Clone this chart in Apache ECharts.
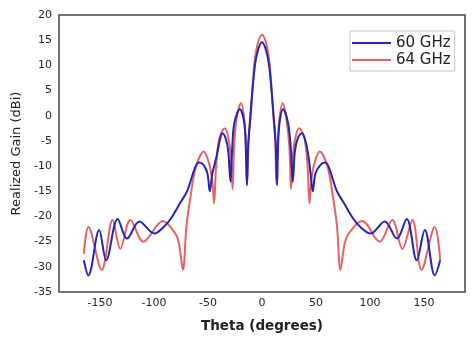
<!DOCTYPE html>
<html>
<head>
<meta charset="utf-8">
<script src="https://cdn.jsdelivr.net/npm/echarts@6/dist/echarts.min.js"></script>
<style>
  html, body { margin: 0; padding: 0; background: #fff; }
  #chart { width: 474px; height: 338px; }
</style>
</head>
<body>
<div id="chart"></div>
<script>
// Radiation pattern cut: realized gain versus theta at two frequencies
const seriesNames = ['60 GHz', '64 GHz'];

// 60 GHz cut (theta in degrees, gain in dBi)
const theta60 = [
  -165, -160.8, -150.8, -144.3, -133.7, -125, -113.6, -99.6, -92, -84, -76, -69, -62, -58.3, -54, -50.5, -48.4,
  -46, -42, -39, -36.6, -33.5, -31.3, -29.2, -27.5, -25.5, -20.5, -16.5, -15, -14, -12.8, -11, -7, -4, 0,
  4, 7, 11, 12.8, 14, 14.8, 16.3, 19.5, 24, 26.7, 28.5, 30.5, 33, 37, 40, 43, 45, 47,
  49.5, 54, 58.6, 62, 69, 76, 84, 92, 100.5, 113.6, 125, 134, 143.3, 150.8, 160, 165
];
const gain60 = [
  -28.7, -31.7, -22.7, -28.7, -20.5, -24.4, -21, -23.4, -22.3, -20.3, -17.4, -14.8, -10.3, -9.3, -9.8, -11.5, -15,
  -11.5, -8, -4.8, -3.5, -4.6, -7, -13.1, -6, -1.3, 1.3, -1.3, -6.5, -13.8, -6, -0.7, 9.2, 12.8, 14.6,
  12.8, 9.2, -0.7, -6, -13.8, -6.5, -1.3, 1.3, -1.3, -6.5, -13.1, -7, -4.6, -3.5, -4.8, -8, -11.5, -15,
  -11.5, -9.8, -9.3, -10.3, -14.8, -17.4, -20.3, -22.3, -23.4, -21, -24.4, -20.5, -28.7, -22.7, -31.7, -28.7
];

// 64 GHz cut (theta in degrees, gain in dBi)
const theta64 = [
  -165, -160.8, -148.4, -138.4, -131.2, -121.9, -109.8, -91.8, -80, -76.8, -73.2, -70, -66.5, -61, -54, -49, -46, -44.4,
  -42.5, -39.5, -34.4, -31, -29, -27.3, -25.8, -23.5, -19.5, -16.5, -14.8, -13.7, -12.5, -10.5, -7, -4, 0,
  4, 7, 10.5, 12.2, 13.3, 14.4, 16.2, 19.2, 22.5, 25.3, 27, 28.7, 30.8, 34.4, 39.3, 42.2, 44,
  45.6, 48.5, 53.4, 60.5, 66, 69.5, 72.6, 76.5, 80, 92.7, 109, 120.6, 130, 139.3, 147.7, 160, 165
];
const gain64 = [
  -27.4, -22.1, -30.6, -20.7, -26.4, -20.7, -25, -20.9, -23.5, -25.5, -30.6, -22, -16.5, -10, -7.1, -9.5, -13, -17.4,
  -10, -4.5, -2.5, -4.5, -8, -14.6, -6, -0.5, 2.5, -0.5, -6, -13.5, -5, 0, 10.5, 14.3, 16.1,
  14.3, 10.5, 0, -5, -13.5, -6, -0.5, 2.5, -0.5, -6, -14.6, -8, -4.5, -2.5, -4.5, -10, -17.4,
  -13, -9.5, -7.1, -10, -16.5, -22, -30.6, -25.5, -23.5, -20.9, -25, -20.7, -26.4, -20.7, -30.6, -22.1, -28.7
];

const xTicks = [-150, -100, -50, 0, 50, 100, 150];

const pairs = (xs, ys) => xs.map((x, i) => [x, ys[i]]);

const chart = echarts.init(document.getElementById('chart'), null, { renderer: 'canvas' });
const font = 'DejaVu Sans';

chart.setOption({
  animation: false,
  backgroundColor: '#ffffff',
  grid: {
    left: 59, right: 9, top: 15, bottom: 46,
    show: true, borderColor: '#454545', borderWidth: 1.5, backgroundColor: 'transparent'
  },
  legend: {
    orient: 'vertical',
    left: 350, top: 31,
    data: seriesNames,
    icon: 'rect',
    itemWidth: 39, itemHeight: 2,
    itemGap: 1,
    padding: [4, 4, 3, 2],
    backgroundColor: '#ffffff',
    borderColor: '#c4c4c4', borderWidth: 1,
    textStyle: { fontFamily: font, fontSize: 15, color: '#222', lineHeight: 16 }
  },
  xAxis: {
    type: 'value',
    min: -188, max: 188,
    name: 'Theta (degrees)',
    nameLocation: 'middle',
    nameGap: 27,
    nameTextStyle: { fontFamily: font, fontSize: 13.5, fontWeight: 'bold', color: '#222' },
    axisLine: { show: false },
    axisTick: { show: false },
    splitLine: { show: false },
    axisLabel: {
      customValues: xTicks,
      fontFamily: font, fontSize: 11, color: '#262626', margin: 6
    }
  },
  yAxis: {
    type: 'value',
    min: -35, max: 20, interval: 5,
    name: 'Realized Gain (dBi)',
    nameLocation: 'middle',
    nameGap: 30,
    nameTextStyle: { fontFamily: font, fontSize: 13, color: '#222' },
    axisLine: { show: false },
    axisTick: { show: false },
    splitLine: { show: false },
    axisLabel: { fontFamily: font, fontSize: 11, color: '#262626', margin: 7 }
  },
  series: [
    {
      name: seriesNames[0], type: 'line', z: 3,
      data: pairs(theta60, gain60),
      smooth: 0.35, showSymbol: false, symbol: 'none',
      lineStyle: { color: '#2424b8', width: 2 },
      itemStyle: { color: '#2424b8' }
    },
    {
      name: seriesNames[1], type: 'line', z: 2,
      data: pairs(theta64, gain64),
      smooth: 0.35, showSymbol: false, symbol: 'none',
      lineStyle: { color: '#e8625f', width: 2 },
      itemStyle: { color: '#e8625f' }
    }
  ]
});
</script>
</body>
</html>
